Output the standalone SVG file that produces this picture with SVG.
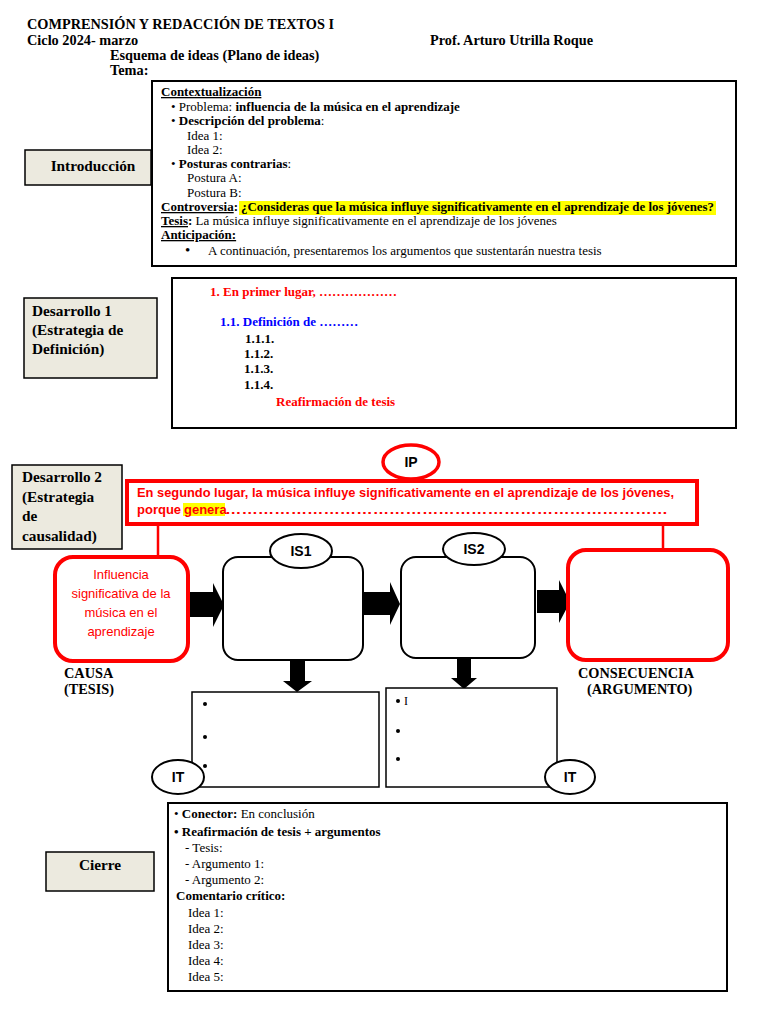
<svg xmlns="http://www.w3.org/2000/svg" width="768" height="1024" viewBox="0 0 768 1024">
<style>
.s{font-family:"Liberation Serif","Times New Roman",serif;fill:#000}
.b{font-weight:bold}
.h{font-size:14.3px;font-weight:bold}
.L{font-size:15.3px;font-weight:bold}
.t{font-size:13px}
.lbl{fill:#ECEADF;stroke:#000;stroke-width:1.5}
.box{fill:#fff;stroke:#000;stroke-width:2}
.a{font-family:"Liberation Sans",Arial,sans-serif}
.red{fill:#FF0000}
.blue{fill:#0000FF}
.rs{fill:#fff;stroke:#FF0000;stroke-width:4}
.ks{fill:#fff;stroke:#000;stroke-width:2}
.arrow{fill:#000}
.u{text-decoration:underline}
</style>
<rect width="768" height="1024" fill="#fff"/>
<g id="header" class="s h">
<text x="27" y="29">COMPRENSIÓN Y REDACCIÓN DE TEXTOS I</text>
<text x="27" y="45">Ciclo 2024- marzo</text>
<text x="430" y="45">Prof. Arturo Utrilla Roque</text>
<text x="110" y="60">Esquema de ideas (Plano de ideas)</text>
<text x="110" y="75">Tema:</text>
</g>
<g id="introduccion-label">
<rect class="lbl" x="25" y="150" width="126" height="35"/>
<text class="s L" x="93" y="171" text-anchor="middle">Introducción</text>
</g>
<g id="introduccion-content">
<rect class="box" x="152" y="81" width="584" height="185"/>
<rect x="239" y="201" width="477" height="14" fill="#FFFF00"/>
<g class="s t">
<text x="161" y="96" class="b u">Contextualización </text>
<text x="171" y="111">• Problema: <tspan class="b">influencia de la música en el aprendizaje</tspan></text>
<text x="171" y="125">• <tspan class="b">Descripción del problema</tspan>:</text>
<text x="187" y="140">Idea 1:</text>
<text x="187" y="154">Idea 2:</text>
<text x="171" y="168">• <tspan class="b">Posturas contrarias</tspan>:</text>
<text x="187" y="182">Postura A:</text>
<text x="187" y="197">Postura B:</text>
<text x="161" y="211" class="b"><tspan class="u">Controversia</tspan>:</text>
<text x="241" y="211" class="b" textLength="473" lengthAdjust="spacingAndGlyphs">¿Consideras que la música influye significativamente en el aprendizaje de los jóvenes?</text>
<text x="161" y="225"><tspan class="b u">Tesis</tspan><tspan class="b">:</tspan>  La música influye significativamente en el aprendizaje de los jóvenes</text>
<text x="161" y="239" class="b u">Anticipación:</text>
<text x="185" y="255" font-size="15">•</text>
<text x="208" y="255">A continuación, presentaremos los argumentos que sustentarán nuestra tesis</text>
</g>
</g>
<g id="desarrollo1-label">
<rect class="lbl" x="24" y="298" width="133" height="80"/>
<g class="s L">
<text x="32" y="316">Desarrollo 1</text>
<text x="32" y="335">(Estrategia de</text>
<text x="32" y="354">Definición)</text>
</g>
</g>
<g id="desarrollo1-content">
<rect class="box" x="172" y="278" width="564" height="150"/>
<g class="s t b">
<text x="210" y="296" class="red">1. En primer lugar, ………………</text>
<text x="220" y="326" class="blue">1.1. Definición de ………</text>
<text x="245" y="343">1.1.1.</text>
<text x="244" y="358">1.1.2.</text>
<text x="244" y="373">1.1.3.</text>
<text x="244" y="389">1.1.4.</text>
<text x="276" y="406" class="red">Reafirmación de tesis</text>
</g>
</g>
<g id="desarrollo2-label">
<rect class="lbl" x="12" y="465" width="110" height="84"/>
<g class="s L">
<text x="22" y="482">Desarrollo 2</text>
<text x="22" y="502">(Estrategia</text>
<text x="22" y="521">de</text>
<text x="22" y="541">causalidad)</text>
</g>
</g>
<g id="connectors">
<line x1="158" y1="524" x2="158" y2="557" stroke="#FF0000" stroke-width="2.5"/>
<line x1="663" y1="524" x2="663" y2="551" stroke="#FF0000" stroke-width="2.5"/>
<polygon class="arrow" points="188,592 213,592 213,583 224,605 213,627 213,617 188,617"/>
<polygon class="arrow" points="363,592 390,592 390,582 400,604 390,625 390,615 363,615"/>
<polygon class="arrow" points="537,590 559,590 559,580 570,602 559,623 559,613 537,613"/>
<polygon class="arrow" points="290,660 305,660 305,681 312,681 297,692 283,681 290,681"/>
<polygon class="arrow" points="457,658 471,658 471,678 477,678 464,689 451,678 457,678"/>
</g>
<g id="ip">
<ellipse cx="411" cy="462" rx="28" ry="17" fill="#fff" stroke="#FF0000" stroke-width="3.5"/>
<text class="a b" x="411" y="467" font-size="14" text-anchor="middle">IP</text>
</g>
<g id="idea-principal">
<rect class="rs" x="127" y="481" width="570" height="43"/>
<rect x="183" y="503" width="42" height="13" fill="#FFFF00"/>
<g class="a red b" font-size="13">
<text x="137" y="497" textLength="537" lengthAdjust="spacingAndGlyphs">En segundo lugar, la música influye significativamente en el aprendizaje de los jóvenes,</text>
<text x="137" y="514">porque </text>
<text x="184" y="514">genera</text>
<text x="225" y="514" textLength="443" lengthAdjust="spacingAndGlyphs">………………………………………………………………………</text>
</g>
</g>
<g id="causa">
<rect class="rs" x="55" y="557" width="133" height="104" rx="18"/>
<g class="a red" font-size="13" text-anchor="middle">
<text x="121" y="579">Influencia</text>
<text x="121" y="598">significativa de la</text>
<text x="121" y="617">música en el</text>
<text x="121" y="636">aprendizaje</text>
</g>
<g class="s h">
<text x="64" y="678">CAUSA</text>
<text x="64" y="694">(TESIS)</text>
</g>
</g>
<g id="is1">
<rect class="ks" x="223" y="557" width="140" height="103" rx="15"/>
<ellipse class="ks" cx="301" cy="551" rx="31" ry="17"/>
<text class="a b" x="301" y="556" font-size="14" text-anchor="middle">IS1</text>
</g>
<g id="is2">
<rect class="ks" x="401" y="557" width="134" height="101" rx="15"/>
<ellipse class="ks" cx="474" cy="549" rx="31" ry="16"/>
<text class="a b" x="474" y="554" font-size="14" text-anchor="middle">IS2</text>
</g>
<g id="consecuencia">
<rect class="rs" x="568" y="550" width="160" height="110" rx="18"/>
<g class="s h">
<text x="578" y="678">CONSECUENCIA</text>
<text x="587" y="694">(ARGUMENTO)</text>
</g>
</g>
<g id="it-box-1">
<rect fill="#fff" stroke="#000" stroke-width="1.5" x="192" y="692" width="187" height="95"/>
<circle cx="205" cy="704" r="2"/>
<circle cx="205" cy="737" r="2"/>
<circle cx="205" cy="766" r="2"/>
</g>
<g id="it-box-2">
<rect fill="#fff" stroke="#000" stroke-width="1.5" x="386" y="688" width="171" height="99"/>
<circle cx="398" cy="701" r="2"/>
<text class="s" x="404" y="705" font-size="12">I</text>
<circle cx="398" cy="731" r="2"/>
<circle cx="398" cy="759" r="2"/>
</g>
<g id="it1">
<ellipse class="ks" cx="178" cy="777" rx="26" ry="17"/>
<text class="a b" x="178" y="782" font-size="14" text-anchor="middle">IT</text>
</g>
<g id="it2">
<ellipse class="ks" cx="570" cy="777" rx="25" ry="17"/>
<text class="a b" x="570" y="782" font-size="14" text-anchor="middle">IT</text>
</g>
<g id="cierre-label">
<rect class="lbl" x="46" y="852" width="108" height="39"/>
<text class="s L" x="100" y="870" text-anchor="middle">Cierre</text>
</g>
<g id="cierre-content">
<rect class="box" x="168" y="803" width="559" height="188"/>
<g class="s t">
<text x="174" y="818">• <tspan class="b">Conector:</tspan> En conclusión</text>
<text x="174" y="836" class="b">• Reafirmación de tesis + argumentos</text>
<text x="185" y="852">- Tesis:</text>
<text x="185" y="868">- Argumento 1:</text>
<text x="185" y="884">- Argumento 2:</text>
<text x="176" y="900" class="b">Comentario crítico:</text>
<text x="188" y="917">Idea 1:</text>
<text x="188" y="933">Idea 2:</text>
<text x="188" y="949">Idea 3:</text>
<text x="188" y="965">Idea 4:</text>
<text x="188" y="981">Idea 5:</text>
</g>
</g>
</svg>
